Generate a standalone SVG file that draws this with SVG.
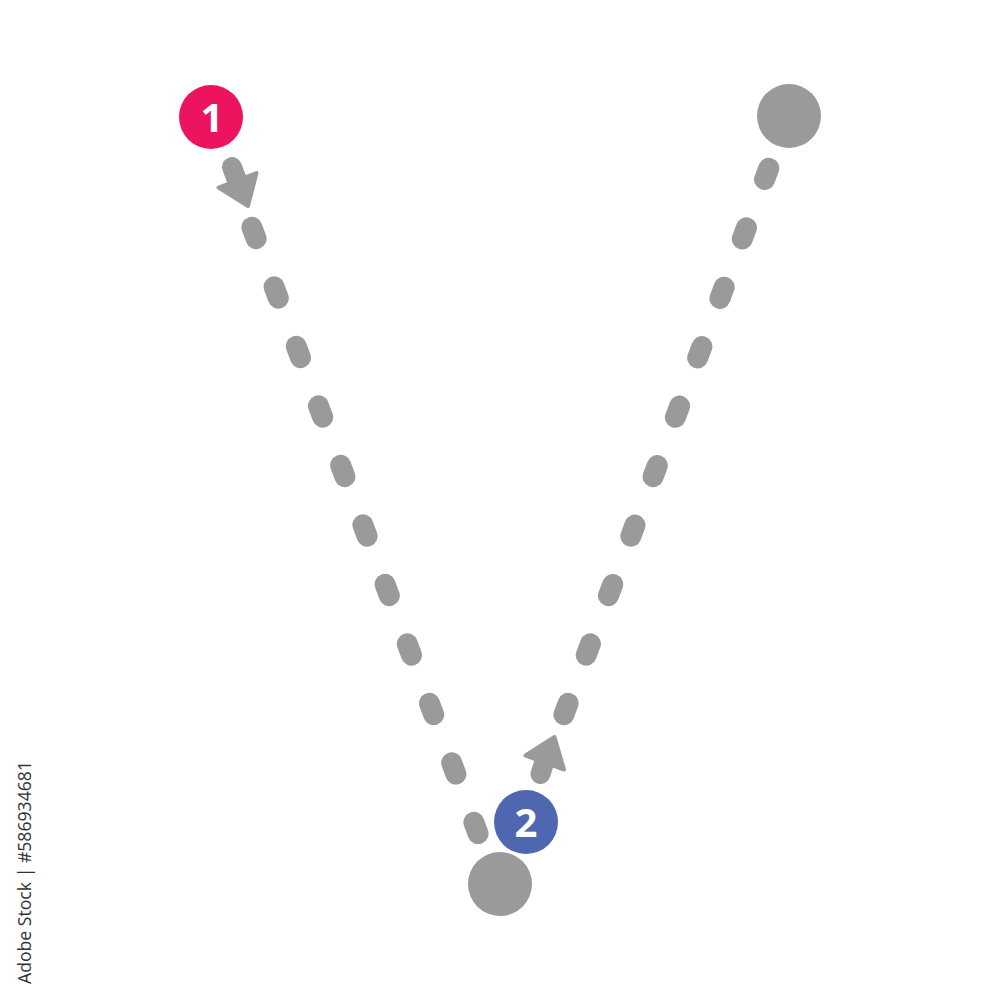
<svg xmlns="http://www.w3.org/2000/svg" width="1000" height="1000" viewBox="0 0 1000 1000">
<style>
.dash{fill:none;stroke:#9a9a9a;stroke-width:21;stroke-linecap:round;stroke-dasharray:12 51.5}
.shaft{fill:none;stroke:#9a9a9a;stroke-width:20;stroke-linecap:round}
.head{fill:#9a9a9a;stroke:#9a9a9a;stroke-width:4;stroke-linejoin:round}
.grey{fill:#9a9a9a}
.num{font-family:"Open Sans","DejaVu Sans",sans-serif;font-weight:bold;font-size:40px;fill:#ffffff;text-anchor:middle}
.credit{font-family:"Open Sans","DejaVu Sans",sans-serif;font-size:18px;fill:#333333}
</style>
<rect width="1000" height="1000" fill="#ffffff"/>
<g id="connectors">
<g id="stroke1">
<line class="shaft" x1="232" y1="167" x2="238" y2="183"/>
<path class="head" d="M248,206 L256.5,173 L218.5,187.5 Z"/>
<line class="dash" x1="251.9" y1="227.4" x2="478.1" y2="833.6"/>
</g>
<g id="stroke2">
<line class="dash" x1="563.9" y1="714.6" x2="769.1" y2="167.4"/>
<line class="shaft" x1="540.5" y1="774" x2="545" y2="760"/>
<path class="head" d="M554.5,737 L564,769.5 L525.5,755.5 Z"/>
</g>
</g>
<g id="end-top-right"><circle class="grey" cx="789" cy="116" r="32"/></g>
<g id="end-bottom"><circle class="grey" cx="500" cy="884" r="32"/></g>
<g id="node1"><circle cx="211" cy="117" r="32" fill="#ec145e"/><text class="num" x="212" y="132">1</text></g>
<g id="node2"><circle cx="526" cy="822" r="32" fill="#4f66b0"/><text class="num" x="526" y="837">2</text></g>
<text class="credit" transform="translate(31,984) rotate(-90)" textLength="223" lengthAdjust="spacingAndGlyphs">Adobe Stock | #586934681</text>
</svg>
